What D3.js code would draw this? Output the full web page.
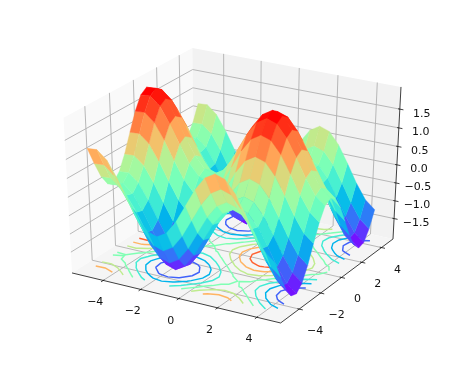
<!DOCTYPE html>
<html>

<head>
  <meta charset="utf-8">
  <title>surface</title>
  <script src="https://d3js.org/d3.v7.min.js"></script>
  <style>
    body { margin: 0; background: #fff; }
    text { font-family: "DejaVu Sans"; font-size: 11px; fill: #111; }
    svg { filter: blur(0.5px); }
  </style>
</head>

<body>
  <svg width="474" height="367" id="plot"></svg>
  <script>
    // grid, one row per y value
    const xs = [-5, -4.5, -4, -3.5, -3, -2.5, -2, -1.5, -1, -0.5, 0, 0.5, 1, 1.5, 2, 2.5, 3, 3.5, 4, 4.5];
    const ys = [-5, -4.5, -4, -3.5, -3, -2.5, -2, -1.5, -1, -0.5, 0, 0.5, 1, 1.5, 2, 2.5, 3, 3.5, 4, 4.5];
    const zRows = [
      [1.24, 1.26, 1.04, 0.63, 0.14, -0.32, -0.63, -0.72, -0.56, -0.20, 0.28, 0.76, 1.12, 1.28, 1.19, 0.88, 0.42, -0.07, -0.48, -0.70],
      [0.75, 0.77, 0.55, 0.14, -0.35, -0.81, -1.12, -1.21, -1.05, -0.69, -0.21, 0.27, 0.63, 0.79, 0.70, 0.39, -0.07, -0.56, -0.97, -1.19],
      [0.31, 0.33, 0.11, -0.30, -0.79, -1.25, -1.56, -1.65, -1.49, -1.13, -0.65, -0.17, 0.19, 0.35, 0.26, -0.05, -0.51, -1.00, -1.41, -1.63],
      [0.02, 0.04, -0.18, -0.59, -1.08, -1.54, -1.85, -1.94, -1.78, -1.42, -0.94, -0.46, -0.10, 0.06, -0.03, -0.34, -0.80, -1.29, -1.70, -1.92],
      [-0.03, -0.01, -0.23, -0.64, -1.13, -1.59, -1.90, -1.99, -1.83, -1.47, -0.99, -0.51, -0.15, 0.01, -0.08, -0.39, -0.85, -1.34, -1.75, -1.97],
      [0.16, 0.18, -0.04, -0.45, -0.94, -1.40, -1.71, -1.80, -1.64, -1.28, -0.80, -0.32, 0.04, 0.20, 0.11, -0.20, -0.66, -1.15, -1.56, -1.78],
      [0.54, 0.56, 0.34, -0.07, -0.56, -1.02, -1.33, -1.42, -1.26, -0.90, -0.42, 0.06, 0.42, 0.58, 0.49, 0.18, -0.28, -0.77, -1.18, -1.40],
      [1.03, 1.05, 0.83, 0.42, -0.07, -0.53, -0.84, -0.93, -0.77, -0.41, 0.07, 0.55, 0.91, 1.07, 0.98, 0.67, 0.21, -0.28, -0.69, -0.91],
      [1.50, 1.52, 1.30, 0.89, 0.40, -0.06, -0.37, -0.46, -0.30, 0.06, 0.54, 1.02, 1.38, 1.54, 1.45, 1.14, 0.68, 0.19, -0.22, -0.44],
      [1.84, 1.86, 1.64, 1.23, 0.74, 0.28, -0.03, -0.12, 0.04, 0.40, 0.88, 1.36, 1.72, 1.88, 1.79, 1.48, 1.02, 0.53, 0.12, -0.10],
      [1.96, 1.98, 1.76, 1.35, 0.86, 0.40, 0.09, 0.00, 0.16, 0.52, 1.00, 1.48, 1.84, 2.00, 1.91, 1.60, 1.14, 0.65, 0.24, 0.02],
      [1.84, 1.86, 1.64, 1.23, 0.74, 0.28, -0.03, -0.12, 0.04, 0.40, 0.88, 1.36, 1.72, 1.88, 1.79, 1.48, 1.02, 0.53, 0.12, -0.10],
      [1.50, 1.52, 1.30, 0.89, 0.40, -0.06, -0.37, -0.46, -0.30, 0.06, 0.54, 1.02, 1.38, 1.54, 1.45, 1.14, 0.68, 0.19, -0.22, -0.44],
      [1.03, 1.05, 0.83, 0.42, -0.07, -0.53, -0.84, -0.93, -0.77, -0.41, 0.07, 0.55, 0.91, 1.07, 0.98, 0.67, 0.21, -0.28, -0.69, -0.91],
      [0.54, 0.56, 0.34, -0.07, -0.56, -1.02, -1.33, -1.42, -1.26, -0.90, -0.42, 0.06, 0.42, 0.58, 0.49, 0.18, -0.28, -0.77, -1.18, -1.40],
      [0.16, 0.18, -0.04, -0.45, -0.94, -1.40, -1.71, -1.80, -1.64, -1.28, -0.80, -0.32, 0.04, 0.20, 0.11, -0.20, -0.66, -1.15, -1.56, -1.78],
      [-0.03, -0.01, -0.23, -0.64, -1.13, -1.59, -1.90, -1.99, -1.83, -1.47, -0.99, -0.51, -0.15, 0.01, -0.08, -0.39, -0.85, -1.34, -1.75, -1.97],
      [0.02, 0.04, -0.18, -0.59, -1.08, -1.54, -1.85, -1.94, -1.78, -1.42, -0.94, -0.46, -0.10, 0.06, -0.03, -0.34, -0.80, -1.29, -1.70, -1.92],
      [0.31, 0.33, 0.11, -0.30, -0.79, -1.25, -1.56, -1.65, -1.49, -1.13, -0.65, -0.17, 0.19, 0.35, 0.26, -0.05, -0.51, -1.00, -1.41, -1.63],
      [0.75, 0.77, 0.55, 0.14, -0.35, -0.81, -1.12, -1.21, -1.05, -0.69, -0.21, 0.27, 0.63, 0.79, 0.70, 0.39, -0.07, -0.56, -0.97, -1.19]
    ];
    const contourLevels = [-1.5, -1, -0.5, 0, 0.5, 1, 1.5];
    const xTicks = [-4, -2, 0, 2, 4];
    const yTicks = [-4, -2, 0, 2, 4];
    const zTicks = [-1.5, -1, -0.5, 0, 0.5, 1, 1.5];

    const svg = d3.select('#plot');

    // box limits, scaled into a unit cube
    const xLim = [-5.69, 5.19], yLim = [-5.69, 5.19], zLim = [-2.083, 2.083];
    const xCube = d3.scaleLinear().domain(xLim).range([0, 1]);
    const yCube = d3.scaleLinear().domain(yLim).range([0, 1]);
    const zCube = d3.scaleLinear().domain(zLim).range([0, 1]);

    // camera: elev 30, azim -60, dist 10
    const dist = 10;
    const right = [0.866, 0.5, 0], up = [-0.25, 0.433, 0.866], toEye = [0.433, -0.75, 0.5];
    const screenX = d3.scaleLinear().domain([0, 1]).range([235, 235 + 2408]);
    const screenY = d3.scaleLinear().domain([0, 1]).range([180.8, 180.8 - 1773]);
    const dot = (a, b) => a[0] * b[0] + a[1] * b[1] + a[2] * b[2];

    function project(x, y, z) {
      const q = [xCube(x) - 0.5, yCube(y) - 0.5, zCube(z) - 0.5];
      const depth = dot(q, toEye);
      const w = dist - depth;
      return { sx: screenX(dot(q, right) / w), sy: screenY(dot(q, up) / w), depth };
    }
    const pts = list => list.map(p => { const r = project(...p); return `${r.sx},${r.sy}`; }).join(' ');

    // matplotlib rainbow
    function rainbow(t) {
      const r = Math.min(1, Math.abs(2 * t - 0.5));
      const g = Math.sin(Math.PI * t);
      const b = Math.cos(Math.PI * t / 2);
      return d3.rgb(r * 255, g * 255, b * 255).formatHex();
    }

    // panes
    const [x0, x1] = xLim, [y0, y1] = yLim, [z0, z1] = zLim;
    const paneGroup = svg.append('g');
    const panes = [
      { c: [[x0, y0, z0], [x0, y1, z0], [x0, y1, z1], [x0, y0, z1]], fill: '#f9f9f9' },
      { c: [[x0, y1, z0], [x1, y1, z0], [x1, y1, z1], [x0, y1, z1]], fill: '#f2f2f2' },
      { c: [[x0, y0, z0], [x1, y0, z0], [x1, y1, z0], [x0, y1, z0]], fill: '#f5f5f5' }
    ];
    paneGroup.selectAll('polygon').data(panes).join('polygon')
      .attr('points', d => pts(d.c))
      .attr('fill', d => d.fill);

    // grid lines
    const gridLines = [];
    xTicks.forEach(t => gridLines.push([[t, y0, z0], [t, y1, z0], [t, y1, z1]]));
    yTicks.forEach(t => gridLines.push([[x1, t, z0], [x0, t, z0], [x0, t, z1]]));
    zTicks.forEach(t => gridLines.push([[x0, y0, t], [x0, y1, t], [x1, y1, t]]));
    svg.append('g').selectAll('polyline').data(gridLines).join('polyline')
      .attr('points', d => pts(d))
      .attr('fill', 'none')
      .attr('stroke', '#b0b0b0')
      .attr('stroke-width', 0.9);

    // axis lines and ticks
    const axisGroup = svg.append('g').attr('stroke', '#111').attr('stroke-width', 0.8);
    const axisLines = [
      [[x0, y0, z0], [x1, y0, z0]],
      [[x1, y0, z0], [x1, y1, z0]],
      [[x1, y1, z0], [x1, y1, z1]]
    ];
    axisGroup.selectAll('polyline').data(axisLines).join('polyline')
      .attr('points', d => pts(d))
      .attr('fill', 'none');

    const outFrac = 0.0167, inFrac = 0.0083;
    const dy = y1 - y0, dx = x1 - x0;
    const tickMarks = [];
    xTicks.forEach(t => tickMarks.push([[t, y0 - dy * outFrac, z0], [t, y0 + dy * inFrac, z0]]));
    yTicks.forEach(t => tickMarks.push([[x1 + dx * outFrac, t, z0], [x1 - dx * inFrac, t, z0]]));
    zTicks.forEach(t => tickMarks.push([[x1 + dx * outFrac, y1, t], [x1 - dx * inFrac, y1, t]]));
    axisGroup.selectAll('polyline.tick').data(tickMarks).join('polyline')
      .attr('class', 'tick')
      .attr('points', d => pts(d))
      .attr('fill', 'none');

    // tick labels
    const intFormat = v => String(v).replace('-', '\u2212');
    const zFormat = v => d3.format('.1f')(v).replace('-', '\u2212');
    const labels = [];
    xTicks.forEach(t => { const p = project(t, y0, z0); labels.push({ x: p.sx - 8, y: p.sy + 22, s: intFormat(t) }); });
    yTicks.forEach(t => { const p = project(x1, t, z0); labels.push({ x: p.sx + 16, y: p.sy + 22, s: intFormat(t) }); });
    zTicks.forEach(t => { const p = project(x1, y1, t); labels.push({ x: p.sx + 22, y: p.sy + 4.5, s: zFormat(t) }); });
    svg.append('g').selectAll('text').data(labels).join('text')
      .attr('x', d => d.x)
      .attr('y', d => d.y)
      .attr('text-anchor', 'middle')
      .attr('dominant-baseline', 'middle')
      .text(d => d.s);

    // contour lines on the floor
    const flat = zRows.flat();
    const contourMaker = d3.contours().size([xs.length, ys.length]).smooth(true).thresholds(contourLevels);
    const gridX = d3.scaleLinear().domain([0.5, xs.length - 0.5]).range([xs[0], xs[xs.length - 1]]);
    const gridY = d3.scaleLinear().domain([0.5, ys.length - 0.5]).range([ys[0], ys[ys.length - 1]]);
    const colorNorm = d3.scaleLinear().domain([-2, 2]).range([0, 1]);

    // d3 closes contours along the border of the grid: drop those parts
    function openRing(ring) {
      const inside = p => p[0] >= 0.5 - 1e-6 && p[0] <= xs.length - 0.5 + 1e-6 && p[1] >= 0.5 - 1e-6 && p[1] <= ys.length - 0.5 + 1e-6;
      if (ring.every(inside)) return [ring];
      const start = ring.findIndex(p => !inside(p));
      const n = ring.length - 1;
      const parts = [];
      let cur = [];
      for (let k = 0; k <= n; k++) {
        const p = ring[(start + k) % n];
        if (inside(p)) cur.push(p);
        else { if (cur.length > 1) parts.push(cur); cur = []; }
      }
      if (cur.length > 1) parts.push(cur);
      return parts;
    }

    const contourLines = [];
    contourMaker(flat).forEach(c => {
      c.coordinates.forEach(poly => poly.forEach(ring => {
        openRing(ring).forEach(part => contourLines.push({ level: c.value, part }));
      }));
    });
    svg.append('g').selectAll('polyline').data(contourLines).join('polyline')
      .attr('points', d => pts(d.part.map(p => [gridX(p[0]), gridY(p[1]), -2])))
      .attr('fill', 'none')
      .attr('stroke', d => rainbow(colorNorm(d.level)))
      .attr('stroke-width', 1.45);

    // surface facets, far ones first
    const facets = [];
    for (let j = 0; j < ys.length - 1; j++) {
      for (let i = 0; i < xs.length - 1; i++) {
        const c = [[i, j], [i + 1, j], [i + 1, j + 1], [i, j + 1]].map(([a, b]) => [xs[a], ys[b], zRows[b][a]]);
        facets.push({
          c,
          z: d3.mean(c, p => p[2]),
          depth: d3.mean(c, p => project(...p).depth)
        });
      }
    }
    facets.sort((a, b) => a.depth - b.depth);
    const facetNorm = d3.scaleLinear().domain(d3.extent(facets, d => d.z)).range([0, 1]);
    svg.append('g').selectAll('polygon').data(facets).join('polygon')
      .attr('points', d => pts(d.c))
      .attr('fill', d => rainbow(facetNorm(d.z)))
      .attr('stroke', d => rainbow(facetNorm(d.z)))
      .attr('stroke-width', 0.4)
      .attr('stroke-linejoin', 'round');
  </script>
</body>

</html>
